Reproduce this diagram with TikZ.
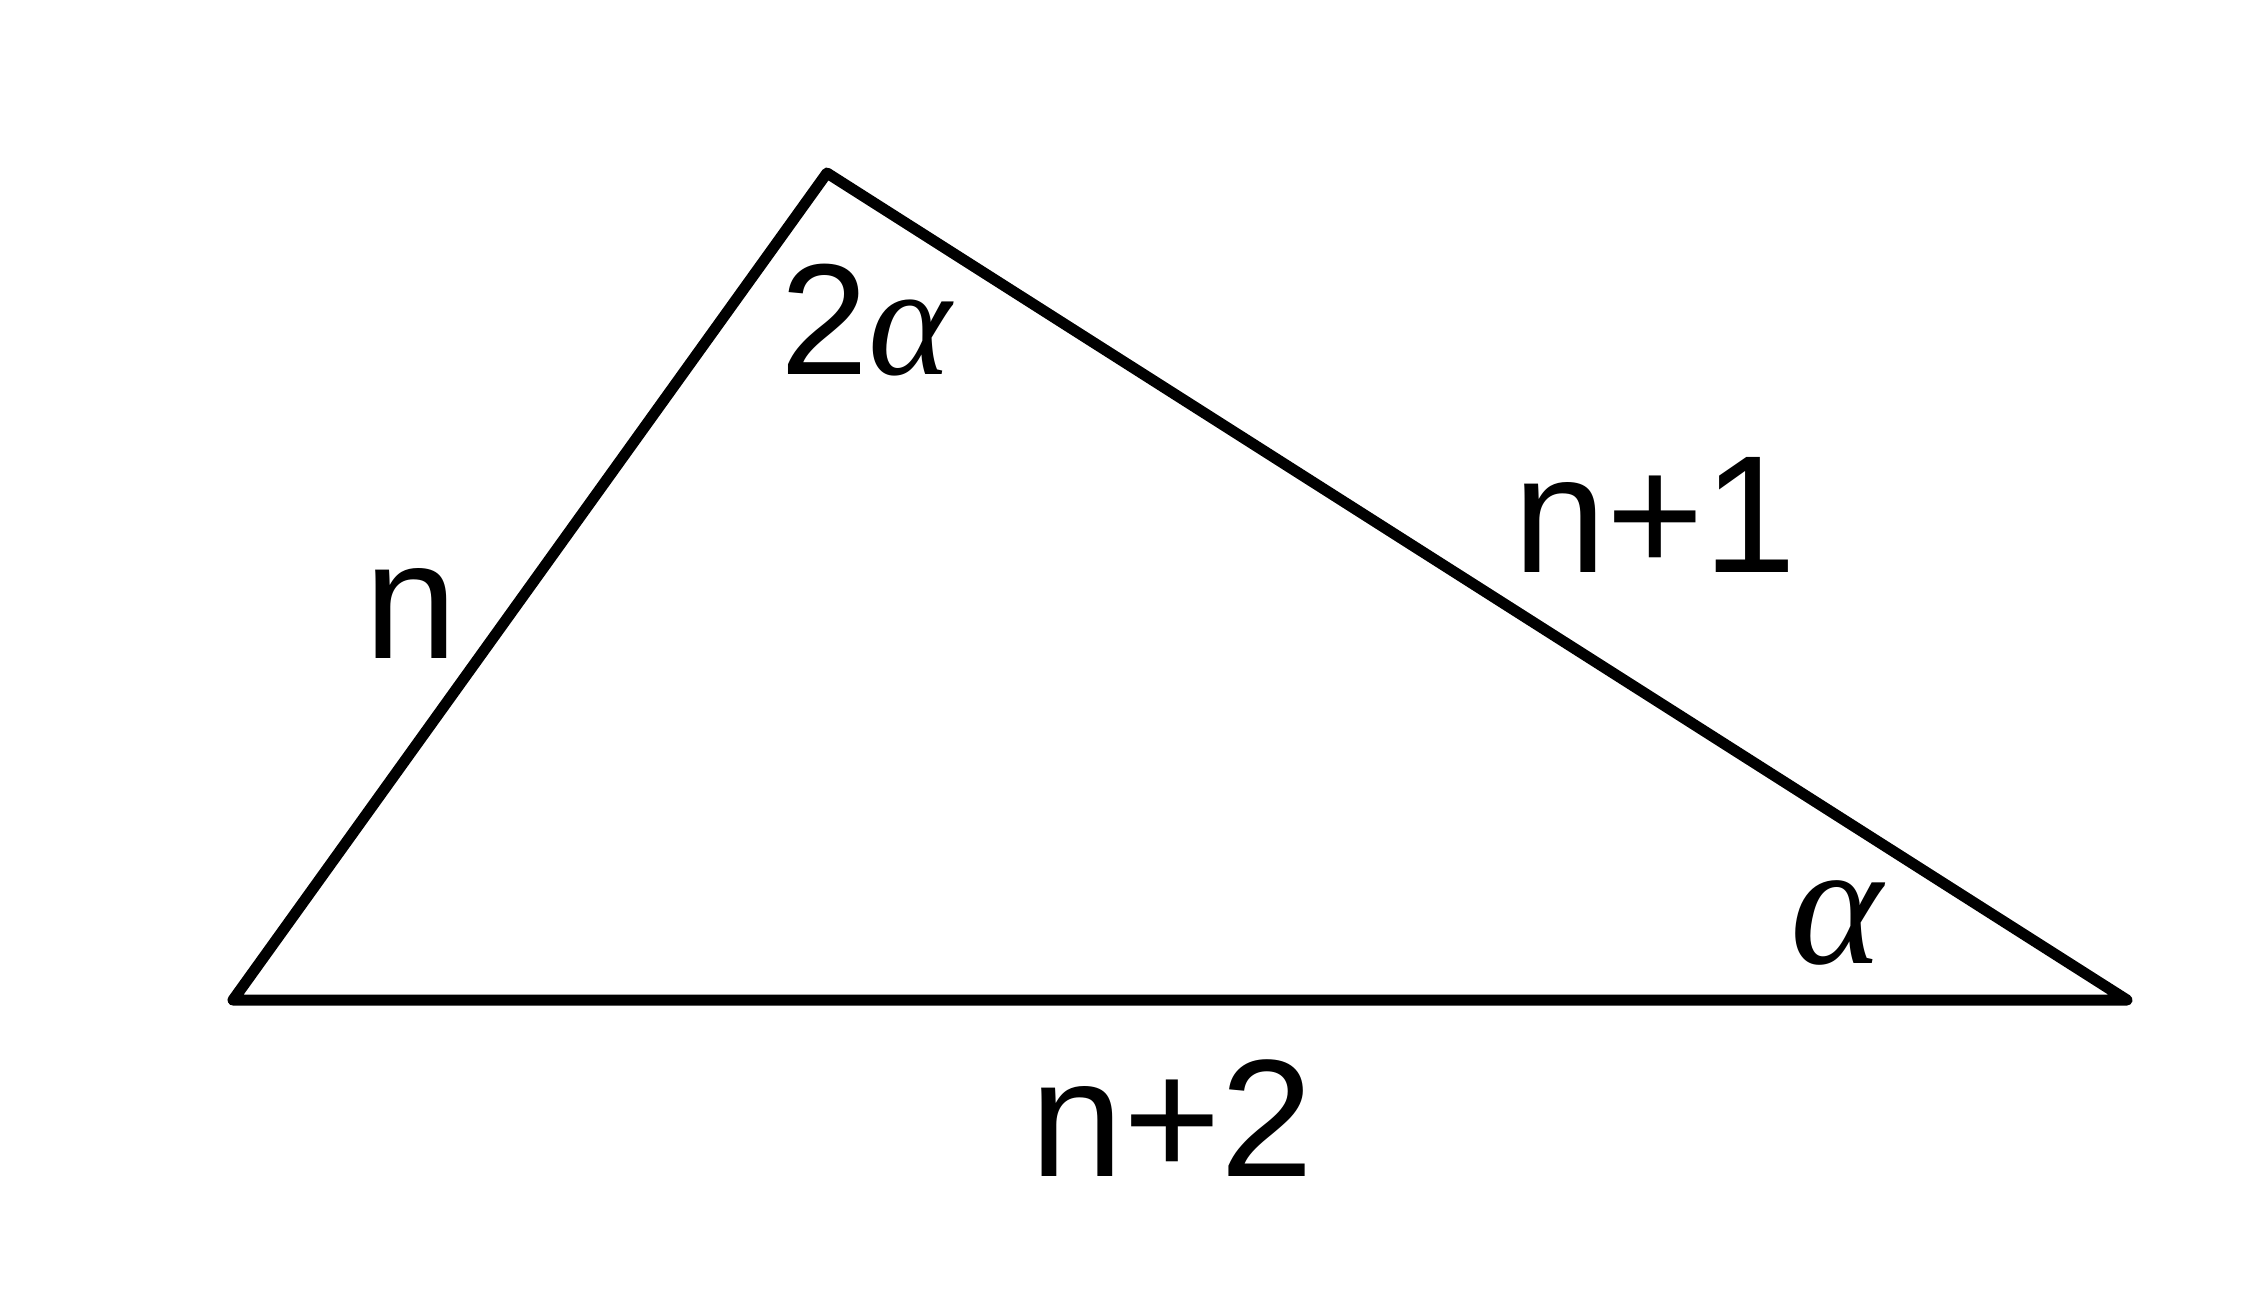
\documentclass[tikz,border=0pt]{standalone}
\usepackage{fontspec}
\setmainfont{Liberation Sans}
\newfontfamily\greekfont{Liberation Serif}
\tikzset{
    lado/.style={inner sep=0pt, font=\fontsize{47.6}{50}\selectfont},
    angulo/.style={inner sep=0pt, font=\fontsize{45}{48}\selectfont},
}
\begin{document}
\begin{tikzpicture}
        \useasboundingbox (0,0) rectangle (22.43,12.92);
        \coordinate (A) at (2.33,2.92);
        \coordinate (B) at (8.27,11.19);
        \coordinate (C) at (21.27,2.92);
        \draw[line width=0.11cm, line join=round, line cap=round] (A) -- (B) -- (C) -- cycle;
        \node[lado] (ladoN) at (4.11,6.79) {n};
        \node[lado] (ladoN1) at (16.55,7.77) {n+1};
        \node[lado] (ladoN2) at (11.72,1.74) {n+2};
        \node[angulo] (anguloB) at (8.66,9.72) {2{\greekfont\itshape α}};
        \node[angulo] (anguloC) at (18.37,3.69) {\fontsize{50}{52}\selectfont\greekfont\itshape α};
    \end{tikzpicture}
\end{document}
